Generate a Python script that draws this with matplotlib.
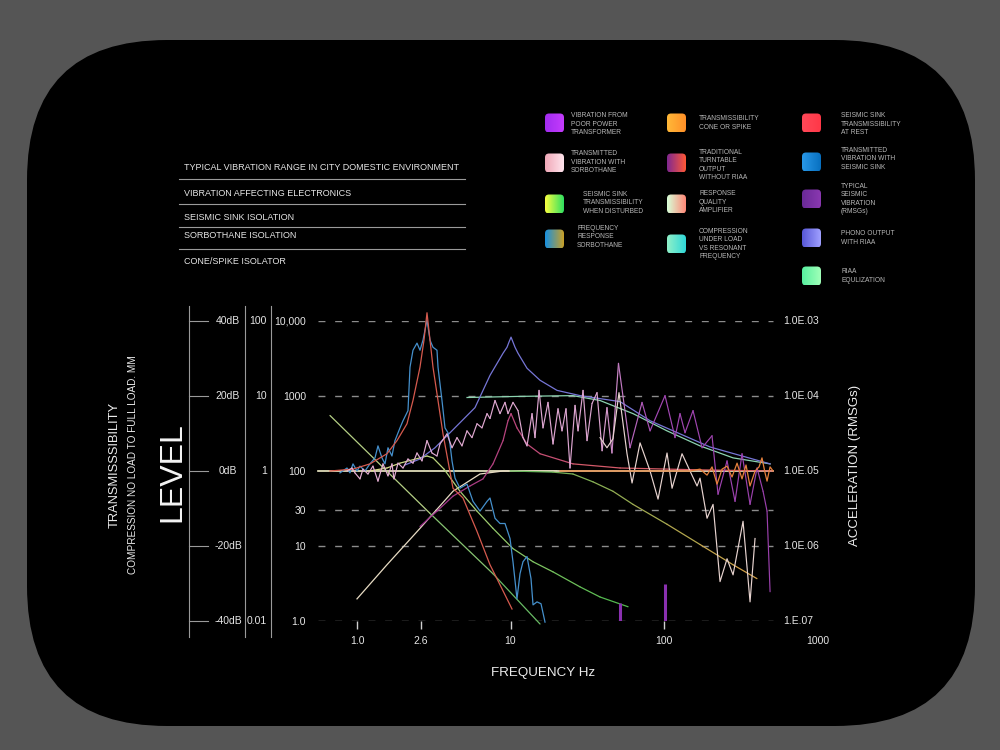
import numpy as np
import matplotlib
matplotlib.use('Agg')
import matplotlib.pyplot as plt
import matplotlib.transforms as mtransforms
from matplotlib.collections import LineCollection
from matplotlib.colors import to_rgb, LinearSegmentedColormap
from matplotlib.patches import FancyBboxPatch
from matplotlib.ticker import NullLocator

plt.rcParams['font.family'] = ['Liberation Sans', 'DejaVu Sans']

# axis scales: level column values (0dB = 100) and the other label columns
level_vals = [10000, 1000, 100, 30, 10, 1]
level_labels = ['10,000', '1000', '100', '30', '10', '1.0']
db_ticks = [40, 20, 0, -20, -40]
db_labels = ['40dB', '20dB', '0dB', '-20dB', '-40dB']
ratio_ticks = [40, 20, 0, -40]
ratio_labels = ['100', '10', '1', '0.01']
accel_ticks = [40, 20, 0, -20, -40]
accel_labels = ['1.0E.03', '1.0E.04', '1.0E.05', '1.0E.06', '1.E.07']
freq_ticks = [1.0, 2.6, 10, 100, 1000]
freq_labels = ['1.0', '2.6', '10', '100', '1000']
dash_vals = [10000, 1000, 30, 10, 1]

# curves: frequency in Hz, level in dB
flat_f = [0.557, 513]
flat_db = [0, 0]

blue_f = [0.775, 0.861, 0.90, 0.942, 1.0, 1.046, 1.127, 1.215, 1.31, 1.37, 1.455, 1.522, 1.592, 1.69,
          1.768, 1.906, 1.994, 2.149, 2.215, 2.316, 2.46, 2.573, 2.692, 2.858, 2.99, 3.127, 3.32, 3.371,
          3.579, 3.744, 3.915, 4.036, 4.159, 4.35, 4.688, 5.207, 5.698, 6.328, 7.03, 7.352, 7.925, 8.544,
          9.209, 9.925, 10.38, 11.02, 11.53, 12.06, 12.81, 13.6, 14.02, 14.88, 15.8, 16.78]
blue_db = [-0.5, 0.8, -0.5, 1.9, 0, 1.3, 0, 1.9, 3.5, 6.7, 3.5, 1.9, 6.2, 4.0,
           8.1, 11.5, 13.4, 16.1, 27.7, 32.2, 34.1, 32.2, 34.9, 40.3, 34.9, 33.0, 32.2, 27.7,
           18.8, 11.5, 10.2, 7.2, 2.7, -1.9, -4.6, -3.5, -8.1, -10.7, -8.1, -7.2, -12.6, -14.0,
           -14.0, -18.0, -24.2, -34.1, -27.4, -24.2, -22.8, -28.7, -35.7, -34.9, -35.4, -40.3]

red_f = [0.667, 0.942, 1.215, 1.568, 1.822, 2.117, 2.316, 2.573, 2.732, 2.858, 2.99, 3.127, 3.371,
         3.634, 3.915, 4.221, 4.903, 6.05, 7.352, 8.80, 10.23]
red_db = [0, 0.5, 1.9, 4.6, 8.1, 12.6, 18.8, 27.7, 34.9, 42.2, 34.9, 27.7, 18.8,
          9.9, 2.7, -4.6, -7.2, -16.1, -25.0, -31.4, -36.8]

phono_f = [2.05, 2.573, 3.222, 4.036, 5.87, 7.352, 8.94, 9.49, 9.78, 10.08, 10.70, 11.19, 12.81,
           15.57, 20.09, 28.4, 51.7, 81.1, 199.5, 490.6]
phono_db = [1.6, 3.2, 6.2, 10.2, 16.9, 25.5, 31.4, 33.0, 34.4, 35.7, 33.0, 31.4, 27.4,
            24.2, 21.5, 20.1, 18.5, 13.4, 6.4, 1.9]

teal_f = [5.21, 11.53, 25.5, 38.3, 62.8, 104.6, 171.6, 281.6, 490.6]
teal_db = [19.6, 19.9, 20.1, 18.8, 15.3, 10.7, 6.7, 3.5, 1.9]

turn_f = [2.573, 3.320, 4.221, 5.447, 6.62, 7.69, 8.94, 9.632, 10.08, 11.02, 12.81, 15.57, 25.54,
          51.7, 171.6, 513]
turn_db = [-14.8, -10.7, -6.7, -4.0, -2.1, 1.9, 8.1, 13.4, 15.3, 11.5, 7.2, 4.6, 1.9,
           0.8, 0.3, 0]

hump_f = [1.2, 1.568, 1.906, 2.573, 2.858, 3.127, 3.688, 4.688, 6.05, 7.69, 10.38, 14.02, 18.92,
          28.37, 38.3, 58.3]
hump_db = [0, 0.8, 2.1, 3.5, 4.0, 3.5, 0.5, -5.4, -10.7, -15.3, -20.7, -24.2, -26.9,
           -30.9, -33.6, -36.2]

riaa_f = [0.667, 2.99, 7.69, 15.57]
riaa_db = [14.8, -11.3, -27.4, -40.8]

rise_f = [1.0, 1.568, 2.573, 4.221, 6.328, 8.94, 20.0]
rise_db = [-34.1, -25.0, -15.3, -5.4, -0.8, 0, 0]

roll_f = [9.93, 18.9, 25.5, 34.5, 46.5, 62.8, 104.6, 171.6, 281.6, 403]
roll_db = [0, -0.3, -0.8, -2.9, -5.4, -8.9, -14.2, -19.6, -25.0, -28.7]

cone_f = [21.0, 147.7, 171.6, 190.6, 205.5, 221.4, 238.7, 257.2, 277.3, 299.0, 322.1, 342.0,
          363.1, 391.7, 415.9, 434.6, 454.9, 468.8, 490.6, 513.0]
cone_db = [0, 0, 0.5, -1.1, 1.1, -3.5, 0.5, 1.3, -1.6, 2.1, -2.1, 1.6,
           -4.0, 0, 1.1, 3.5, -0.5, -2.7, 1.1, 0]

wig_f = [0.861, 0.928, 0.970, 1.046, 1.094, 1.179, 1.271, 1.370, 1.477, 1.592, 1.690, 1.742, 1.850,
         1.994, 2.149, 2.316, 2.460, 2.651, 2.858, 3.080, 3.320,
         3.473, 3.858, 4.159, 4.482, 4.831, 5.207, 5.613, 6.05, 6.52, 7.03, 7.352, 7.925, 8.544,
         9.209, 9.632, 10.38, 11.19, 12.06, 12.81, 13.81, 14.44, 15.34, 16.28, 17.55, 18.92, 20.39,
         21.65, 22.99, 24.41, 26.32, 27.53, 29.68, 31.51, 33.96, 36.6, 39.5, 42.5, 45.8, 50.5,
         60.05, 71.9, 81.1, 101.5, 117.9, 127.1, 137.0, 154.5, 176.9, 205.4, 224.8, 257.3, 290.1,
         322.2, 363.3, 403.6, 441.6, 468.8, 490.6]
wig_db = [0, 0.8, -0.5, -2.1, 0.5, -0.8, 1.3, -2.7, 1.9, -1.3, 1.9, -2.1, 2.1,
          0.8, 3.2, 2.1, 4.8, 2.7, 8.1, 4.8, 4.0,
          7.2, 9.9, 6.2, 8.9, 6.7, 10.7, 8.9, 12.6, 11.5, 15.3, 14.0, 18.8, 15.3,
          18.3, 15.3, 18.3, 16.1, 8.9, 6.7, 15.3, 8.9, 21.5, 11.5, 18.3, 7.2, 16.6,
          10.7, 16.6, 0.8, 17.5, 10.7, 21.5, 8.1, 18.0, 20.9, 5.4, 16.9, 4.8, 28.7,
          6.2, 18.3, 10.7, 20.1, 8.9, 15.3, 10.2, 16.1, 6.2, 9.4, -6.2, 2.7, -8.1,
          4.6, -8.9, 0.8, -5.4, -10.7, -32.2]

white_f = [38.3, 42.5, 46.5, 50.9, 57.4, 61.9, 69.8, 81.1, 91.4, 104.6, 112.8, 131.0, 147.7, 164.1,
           171.6, 190.6, 208.6, 231.6, 257.3, 281.6, 327.1, 363.3, 391.5]
white_db = [8.9, 6.2, 8.6, 20.9, 4.6, -3.2, 7.5, 0, -7.5, 4.8, -4.6, 4.6, 0, -4.0,
            -1.9, -12.6, -8.9, -29.5, -23.4, -27.7, -13.4, -34.9, -18.0]

bar_f = [51.7, 101.5]
bar_top = [-35.2, -30.1]

list_items = ['TYPICAL VIBRATION RANGE IN CITY DOMESTIC ENVIRONMENT',
              'VIBRATION AFFECTING ELECTRONICS',
              'SEISMIC SINK ISOLATION',
              'SORBOTHANE ISOLATION',
              'CONE/SPIKE ISOLATOR']

legend_names = ['VIBRATION FROM\nPOOR POWER\nTRANSFORMER',
                'TRANSMITTED\nVIBRATION WITH\nSORBOTHANE',
                'SEISMIC SINK\nTRANSMISSIBILITY\nWHEN DISTURBED',
                'FREQUENCY\nRESPONSE\nSORBOTHANE',
                'TRANSMISSIBILITY\nCONE OR SPIKE',
                'TRADITIONAL\nTURNTABLE\nOUTPUT\nWITHOUT RIAA',
                'RESPONSE\nQUALITY\nAMPLIFIER',
                'COMPRESSION\nUNDER LOAD\nVS RESONANT\nFREQUENCY',
                'SEISMIC SINK\nTRANSMISSIBILITY\nAT REST',
                'TRANSMITTED\nVIBRATION WITH\nSEISMIC SINK',
                'TYPICAL\nSEISMIC\nVIBRATION\n(RMSGs)',
                'PHONO OUTPUT\nWITH RIAA',
                'RIAA\nEQULIZATION']
legend_colors = [('#a22cf0', '#c43cfc'), ('#f0a8b8', '#ffe4ec'), ('#f8ff40', '#30e060'),
                 ('#1890e0', '#c8a028'), ('#ffb838', '#ff9028'), ('#802890', '#ff5838'),
                 ('#d8ffd8', '#ff8878'), ('#90f0c8', '#30d8d8'), ('#ff4858', '#ff3848'),
                 ('#2898e8', '#0870c0'), ('#6a2a98', '#8a38b0'), ('#5858d8', '#a0a0ff'),
                 ('#58f0a0', '#a0ffb8')]

# layout of the legend block (pixels from top-left)
sq_x = [545] * 4 + [667] * 4 + [802] * 5
sq_y = [123, 163, 204, 239, 123, 163, 204, 244, 123, 162, 199, 238, 276]
txt_x = [571, 571, 583, 577, 699, 699, 699, 699, 841, 841, 841, 841, 841]
txt_y = [124, 162, 203, 237, 123, 165, 202, 244, 124, 159, 199, 238, 276]


def to_db(v):
    return 20 * np.log10(np.asarray(v, dtype=float) / 100.0)


def grad_line(ax, f, db, stops, lw=0.9, z=3):
    f = np.asarray(f, dtype=float)
    db = np.asarray(db, dtype=float)
    pts = np.column_stack([f, db])
    segs = np.stack([pts[:-1], pts[1:]], axis=1)
    cmap = LinearSegmentedColormap.from_list('g', stops)
    lf = np.log10(f)
    t = (0.5 * (lf[:-1] + lf[1:]) - lf.min()) / (lf.max() - lf.min())
    lc = LineCollection(segs, colors=cmap(t), linewidths=lw, zorder=z, capstyle='round')
    lc.set_clip_on(False)
    ax.add_collection(lc)


fig = plt.figure(figsize=(10, 7.5), dpi=100, facecolor='#555555')

# background panel, list and legend
bg = fig.add_axes([0, 0, 1, 1], zorder=0)
bg.axis('off')
bg.add_patch(FancyBboxPatch((27, 40), 948, 686, boxstyle='round,pad=0,rounding_size=140',
                            fc='black', ec='none'))

list_y = [168, 193, 217, 236, 262]
for s, y in zip(list_items, list_y):
    bg.text(184, y, s, fontsize=6.45, color='#e6e6e6', va='center', ha='left')
for y in [179, 204, 227, 249]:
    bg.plot([179, 465], [y, y], color='#9a9a9a', lw=0.8)

for i, name in enumerate(legend_names):
    c0, c1 = legend_colors[i]
    x0, y0 = sq_x[i], sq_y[i] - 9.5
    t = np.linspace(0, 1, 40)[:, None]
    rgb = (1 - t) * np.array(to_rgb(c0)) + t * np.array(to_rgb(c1))
    im = bg.imshow(rgb[None, :, :], extent=(x0, x0 + 19, y0 + 19, y0), interpolation='bilinear', zorder=3)
    clip = FancyBboxPatch((x0, y0), 19, 19, boxstyle='round,pad=0,rounding_size=4',
                          fc='none', ec='none', transform=bg.transData)
    bg.add_patch(clip)
    im.set_clip_path(clip)
    bg.text(txt_x[i], txt_y[i], name, fontsize=4.8, color='#b8b8b8', va='center', ha='left',
            linespacing=1.3)

bg.set_xlim(0, 1000)
bg.set_ylim(750, 0)
bg.set_aspect('auto')

# main chart
ax = fig.add_axes([0.317, 0.172, 0.505, 0.4], zorder=1)
ax.set_facecolor('none')
ax.set_xscale('log')
ax.set_xlim(0.549, 1069)
ax.set_ylim(-40, 40)
for sp in ax.spines.values():
    sp.set_visible(False)

ax.set_xticks(freq_ticks)
ax.set_xticklabels(freq_labels)
ax.xaxis.set_minor_locator(NullLocator())
ax.tick_params(axis='x', length=6, width=1, color='#cfcfcf', labelcolor='#e6e6e6', labelsize=7.5, pad=5)
ax.xaxis.get_major_ticks()[-1].tick1line.set_visible(False)
ax.set_yticks(to_db(level_vals))
ax.set_yticklabels(level_labels)
ax.tick_params(axis='y', length=0, labelcolor='#e6e6e6', labelsize=7.5, pad=8)

ax.hlines(to_db(dash_vals), 0.557, 513, colors='#8c8c8c', linestyles=(0, (5, 7)), lw=1.0, zorder=1)

trans = mtransforms.blended_transform_factory(fig.transFigure, ax.transData)
for xv in [0.189, 0.245, 0.271]:
    ax.plot([xv, xv], [44, -44.3], transform=trans, color='#9a9a9a', lw=0.8, clip_on=False)
for lv, lab in zip(db_ticks, db_labels):
    ax.plot([0.189, 0.208], [lv, lv], transform=trans, color='#9a9a9a', lw=0.8, clip_on=False)
    ax.text(0.228, lv, lab, transform=trans, ha='center', va='center', fontsize=7.5, color='#e6e6e6')
for lv, lab in zip(ratio_ticks, ratio_labels):
    ax.text(0.267, lv, lab, transform=trans, ha='right', va='center', fontsize=7.5, color='#e6e6e6')
for lv, lab in zip(accel_ticks, accel_labels):
    ax.text(0.783, lv, lab, transform=trans, ha='left', va='center', fontsize=7.5, color='#e6e6e6')

# curves
ax.plot(flat_f, flat_db, color='#f2eec8', lw=1.2, zorder=2, clip_on=False)
ax.plot(rise_f, rise_db, color='#e8dcc4', lw=0.9, zorder=3, clip_on=False)
grad_line(ax, hump_f, hump_db, ['#e0dc8c', '#4cb84c'])
grad_line(ax, riaa_f, riaa_db, ['#d0d890', '#5cb860'])
grad_line(ax, roll_f, roll_db, ['#5cb85c', '#d8a048'])
ax.plot(teal_f, teal_db, color='#8cd4b0', lw=0.9, zorder=3, clip_on=False)
ax.plot(phono_f, phono_db, color='#7676d6', lw=0.9, zorder=3, clip_on=False)
grad_line(ax, turn_f, turn_db, ['#9a3090', '#d45a6a', '#d86060'])
ax.plot(blue_f, blue_db, color='#4590cc', lw=0.9, zorder=4, clip_on=False)
ax.plot(red_f, red_db, color='#d65a4e', lw=0.9, zorder=4, clip_on=False)
grad_line(ax, wig_f, wig_db, [(0, '#e6b0d4'), (0.6, '#dca4d0'), (0.72, '#a448b4'), (1, '#9a40ac')],
          lw=0.85, z=4)
ax.plot(white_f, white_db, color='#e8d4d0', lw=0.85, zorder=4, clip_on=False)
ax.plot(cone_f, cone_db, color='#e6803c', lw=0.9, zorder=5, clip_on=False)
ax.vlines(bar_f, -40, bar_top, colors='#8a30b0', lw=2.2, zorder=5)

# axis titles
fig.text(0.115, 1 - 465 / 750, 'TRANSMISSSIBILITY', rotation=90, ha='center', va='center',
         fontsize=9.3, color='#ececec')
fig.text(0.133, 1 - 465 / 750, 'COMPRESSION NO LOAD TO FULL LOAD. MM', rotation=90, ha='center',
         va='center', fontsize=7.2, color='#ececec')
fig.text(0.172, 1 - 472 / 750, 'LEVEL', rotation=90, ha='center', va='center', fontsize=23,
         color='#f4f4f4')
fig.text(0.855, 1 - 465 / 750, 'ACCELERATION (RMSGs)', rotation=90, ha='center', va='center',
         fontsize=9.5, color='#ececec')
fig.text(0.543, 1 - 673 / 750, 'FREQUENCY Hz', ha='center', va='center', fontsize=9.6, color='#ececec')

fig.savefig('out.png', dpi=100, facecolor=fig.get_facecolor())
